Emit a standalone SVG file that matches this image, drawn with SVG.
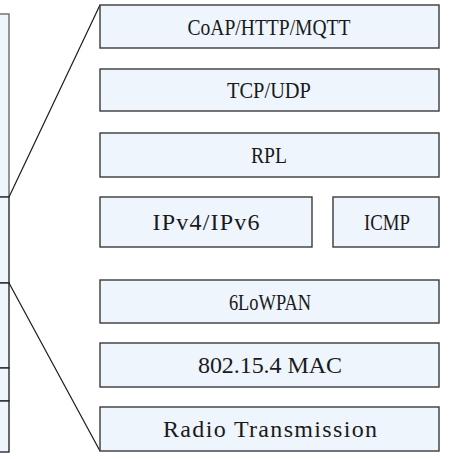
<svg xmlns="http://www.w3.org/2000/svg" width="459" height="459" viewBox="0 0 459 459">
<style>
.box{fill:#eef5fd;stroke:#3a3a3a;stroke-width:1.4}
.lbox{fill:#eef5fd;stroke:#2a2a2a;stroke-width:1.4}
.lbox.g{stroke:#6a6a6a}
.t{font-family:"Liberation Serif","DejaVu Serif",serif;font-size:24px;fill:#1a1a1a;text-anchor:middle}
.c{fill:none;stroke:#1a1a1a;stroke-width:1.2}
</style>
<rect x="0" y="0" width="459" height="459" fill="#ffffff"/>
<g id="left-stack">
<rect class="lbox g" x="-40" y="14" width="49" height="183"/>
<rect class="lbox" x="-40" y="197" width="49" height="86"/>
<rect class="lbox" x="-40" y="283" width="49" height="85"/>
<rect class="lbox" x="-40" y="368" width="49" height="33"/>
<rect class="lbox" x="-40" y="401" width="49" height="51"/>
</g>
<g id="connectors">
<line class="c" x1="9" y1="197" x2="100" y2="5"/>
<line class="c" x1="9" y1="283" x2="100" y2="451"/>
</g>
<g id="app"><rect class="box" x="100" y="5" width="339" height="43"/><text class="t" transform="translate(269 34.5) scale(0.815 1)">CoAP/HTTP/MQTT</text></g>
<g id="transport"><rect class="box" x="100" y="69" width="339" height="42"/><text class="t" transform="translate(269 98) scale(0.851 1)">TCP/UDP</text></g>
<g id="rpl"><rect class="box" x="100" y="133" width="339" height="44"/><text class="t" transform="translate(269 162.5) scale(0.818 1)">RPL</text></g>
<g id="ip"><rect class="box" x="100" y="197" width="212" height="50"/><text class="t" x="206" y="229.5" textLength="107" lengthAdjust="spacing">IPv4/IPv6</text></g>
<g id="icmp"><rect class="box" x="333" y="197" width="106" height="50"/><text class="t" transform="translate(387 229.5) scale(0.784 1)">ICMP</text></g>
<g id="sixlowpan"><rect class="box" x="100" y="280" width="339" height="43"/><text class="t" transform="translate(270 309.5) scale(0.768 1)">6LoWPAN</text></g>
<g id="mac"><rect class="box" x="100" y="343" width="339" height="44"/><text class="t" x="270" y="372.5" textLength="144" lengthAdjust="spacing">802.15.4 MAC</text></g>
<g id="radio"><rect class="box" x="100" y="407" width="339" height="44"/><text class="t" x="270" y="436.5" textLength="214" lengthAdjust="spacing">Radio Transmission</text></g>
</svg>
